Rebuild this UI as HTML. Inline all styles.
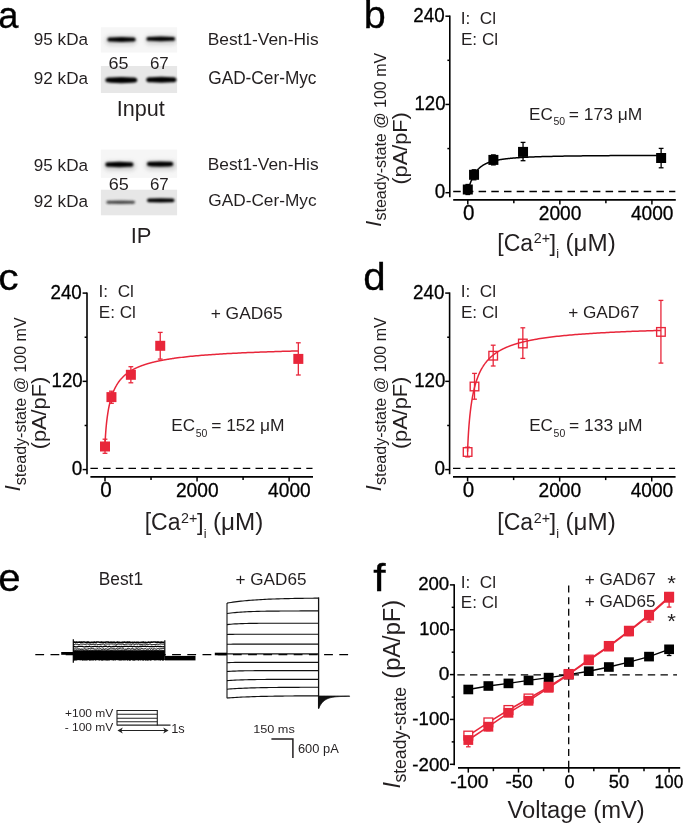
<!DOCTYPE html>
<html><head><meta charset="utf-8"><title>Figure</title>
<style>html,body{margin:0;padding:0;background:#fff;overflow:hidden;} svg{display:block;} text{font-family:"Liberation Sans",Arial,Helvetica,sans-serif;} text.k{stroke:#000;stroke-width:0.3px;}</style>
</head><body>
<svg width="685" height="824" viewBox="0 0 685 824">
<defs><filter id="bl" x="-20%" y="-100%" width="140%" height="300%"><feGaussianBlur stdDeviation="0.8"/></filter>
<filter id="bl2" x="-30%" y="-200%" width="160%" height="500%"><feGaussianBlur stdDeviation="2.2"/></filter>
<clipPath id="cpa"><rect x="100.9" y="27.3" width="76.2" height="25.2"/></clipPath>
<clipPath id="cpb"><rect x="100.9" y="149.6" width="76.2" height="28.2"/></clipPath></defs>
<rect x="0" y="0" width="685" height="824" fill="#fff"/>
<text transform="translate(-1.63,28.20) scale(0.9697,1)" font-size="37.41" fill="#000" class="k" >a</text>
<text transform="translate(363.83,28.30) scale(1.0353,1)" font-size="38.21" fill="#000" class="k" >b</text>
<text transform="translate(-1.83,290.30) scale(1.0773,1)" font-size="37.78" fill="#000" class="k" >c</text>
<text transform="translate(363.29,290.40) scale(1.0490,1)" font-size="38.34" fill="#000" class="k" >d</text>
<text transform="translate(-1.81,591.40) scale(1.0390,1)" font-size="38.70" fill="#000" class="k" >e</text>
<text transform="translate(373.34,590.90) scale(1.1432,1)" font-size="38.62" fill="#000" class="k" >f</text>
<rect x="100.90" y="27.30" width="76.20" height="25.20" fill="#f6f6f6" />
<g clip-path="url(#cpa)"><rect x="105.50" y="36.00" width="31.00" height="9.00" rx="4.50" fill="#888" opacity="0.35" filter="url(#bl2)"/></g>
<g clip-path="url(#cpa)"><rect x="145.50" y="35.50" width="31.00" height="9.00" rx="4.50" fill="#888" opacity="0.35" filter="url(#bl2)"/></g>
<path d="M107.30,39.50 C107.30,37.25 110.05,37.38 111.42,37.38 L121.50,37.00 L131.57,37.38 C132.95,37.38 135.70,37.25 135.70,39.50 C135.70,41.75 132.95,41.62 131.57,41.62 L121.50,42.00 L111.42,41.62 C110.05,41.62 107.30,41.75 107.30,39.50 Z" fill="#000" opacity="1.0" filter="url(#bl)"/>
<path d="M146.40,38.90 C146.40,36.83 148.93,36.95 150.19,36.95 L160.75,36.60 L171.31,36.95 C172.57,36.95 175.10,36.83 175.10,38.90 C175.10,40.97 172.57,40.85 171.31,40.85 L160.75,41.20 L150.19,40.85 C148.93,40.85 146.40,40.97 146.40,38.90 Z" fill="#000" opacity="1.0" filter="url(#bl)"/>
<rect x="100.90" y="66.00" width="76.20" height="27.00" fill="#e7e7e7" />
<path d="M105.40,80.10 C105.40,77.31 108.81,77.46 110.52,77.46 L121.35,77.00 L132.19,77.46 C133.89,77.46 137.30,77.31 137.30,80.10 C137.30,82.89 133.89,82.73 132.19,82.73 L121.35,83.20 L110.52,82.73 C108.81,82.73 105.40,82.89 105.40,80.10 Z" fill="#000" opacity="1.0" filter="url(#bl)"/>
<path d="M146.20,79.80 C146.20,77.10 149.50,77.25 151.15,77.25 L161.35,76.80 L171.55,77.25 C173.20,77.25 176.50,77.10 176.50,79.80 C176.50,82.50 173.20,82.35 171.55,82.35 L161.35,82.80 L151.15,82.35 C149.50,82.35 146.20,82.50 146.20,79.80 Z" fill="#000" opacity="1.0" filter="url(#bl)"/>
<rect x="100.90" y="149.60" width="76.20" height="28.20" fill="#f6f6f6" />
<g clip-path="url(#cpb)"><rect x="104.50" y="161.50" width="31.00" height="9.00" rx="4.50" fill="#888" opacity="0.35" filter="url(#bl2)"/></g>
<g clip-path="url(#cpb)"><rect x="145.50" y="161.00" width="31.00" height="9.00" rx="4.50" fill="#888" opacity="0.35" filter="url(#bl2)"/></g>
<path d="M105.40,164.50 C105.40,162.07 108.37,162.21 109.86,162.21 L119.40,161.80 L128.94,162.21 C130.43,162.21 133.40,162.07 133.40,164.50 C133.40,166.93 130.43,166.79 128.94,166.79 L119.40,167.20 L109.86,166.79 C108.37,166.79 105.40,166.93 105.40,164.50 Z" fill="#000" opacity="1.0" filter="url(#bl)"/>
<path d="M147.00,164.10 C147.00,161.67 149.97,161.81 151.46,161.81 L160.10,161.40 L168.74,161.81 C170.23,161.81 173.20,161.67 173.20,164.10 C173.20,166.53 170.23,166.39 168.74,166.39 L160.10,166.80 L151.46,166.39 C149.97,166.39 147.00,166.53 147.00,164.10 Z" fill="#000" opacity="1.0" filter="url(#bl)"/>
<rect x="100.90" y="189.70" width="76.20" height="25.60" fill="#e7e7e7" />
<path d="M106.30,202.20 C106.30,200.58 108.28,200.67 109.27,200.67 L120.70,200.40 L132.13,200.67 C133.12,200.67 135.10,200.58 135.10,202.20 C135.10,203.82 133.12,203.73 132.13,203.73 L120.70,204.00 L109.27,203.73 C108.28,203.73 106.30,203.82 106.30,202.20 Z" fill="#2a2a2a" opacity="0.85" filter="url(#bl)"/>
<path d="M147.00,200.40 C147.00,198.42 149.42,198.53 150.63,198.53 L160.75,198.20 L170.87,198.53 C172.08,198.53 174.50,198.42 174.50,200.40 C174.50,202.38 172.08,202.27 170.87,202.27 L160.75,202.60 L150.63,202.27 C149.42,202.27 147.00,202.38 147.00,200.40 Z" fill="#000" opacity="1.0" filter="url(#bl)"/>
<text transform="translate(33.83,45.30) scale(0.9927,1)" font-size="17.24" fill="#231f20" >95 kDa</text>
<text transform="translate(33.83,84.00) scale(0.9927,1)" font-size="17.24" fill="#231f20" >92 kDa</text>
<text transform="translate(33.83,170.90) scale(0.9927,1)" font-size="17.24" fill="#231f20" >95 kDa</text>
<text transform="translate(33.83,206.80) scale(0.9927,1)" font-size="17.24" fill="#231f20" >92 kDa</text>
<text transform="translate(207.71,45.10) scale(1.0398,1)" font-size="16.69" fill="#231f20" >Best1-Ven-His</text>
<text transform="translate(208.24,83.60) scale(0.9903,1)" font-size="17.43" fill="#231f20" >GAD-Cer-Myc</text>
<text transform="translate(207.71,170.00) scale(1.0663,1)" font-size="16.28" fill="#231f20" >Best1-Ven-His</text>
<text transform="translate(208.24,206.20) scale(1.0153,1)" font-size="17.00" fill="#231f20" >GAD-Cer-Myc</text>
<text transform="translate(108.60,68.90) scale(1.0379,1)" font-size="17.29" fill="#231f20" >65</text>
<text transform="translate(149.95,68.90) scale(0.9795,1)" font-size="17.29" fill="#231f20" >67</text>
<text transform="translate(108.70,190.00) scale(1.0436,1)" font-size="17.29" fill="#231f20" >65</text>
<text transform="translate(149.95,190.00) scale(0.9795,1)" font-size="17.29" fill="#231f20" >67</text>
<text transform="translate(116.66,115.70) scale(0.9870,1)" font-size="21.88" fill="#231f20" >Input</text>
<text transform="translate(130.72,242.90) scale(0.9788,1)" font-size="22.46" fill="#231f20" >IP</text>
<line x1="449.80" y1="15.50" x2="449.80" y2="197.30" stroke="#000" stroke-width="1.6" />
<line x1="445.40" y1="192.70" x2="449.80" y2="192.70" stroke="#000" stroke-width="1.5" />
<line x1="447.40" y1="148.57" x2="449.80" y2="148.57" stroke="#000" stroke-width="1.5" />
<line x1="445.40" y1="104.45" x2="449.80" y2="104.45" stroke="#000" stroke-width="1.5" />
<line x1="447.40" y1="60.32" x2="449.80" y2="60.32" stroke="#000" stroke-width="1.5" />
<line x1="445.40" y1="16.20" x2="449.80" y2="16.20" stroke="#000" stroke-width="1.5" />
<text transform="translate(413.26,21.90) scale(0.9200,1)" font-size="20.43" fill="#000" class="k" >240</text>
<text transform="translate(414.40,109.90) scale(0.8819,1)" font-size="21.14" fill="#000" class="k" >120</text>
<text transform="translate(434.64,198.20) scale(0.9340,1)" font-size="20.29" fill="#000" class="k" >0</text>
<line x1="453.20" y1="199.90" x2="675.80" y2="199.90" stroke="#000" stroke-width="1.8" />
<line x1="467.80" y1="199.90" x2="467.80" y2="204.60" stroke="#000" stroke-width="1.5" />
<line x1="513.83" y1="199.90" x2="513.83" y2="203.20" stroke="#000" stroke-width="1.5" />
<line x1="559.86" y1="199.90" x2="559.86" y2="204.60" stroke="#000" stroke-width="1.5" />
<line x1="605.89" y1="199.90" x2="605.89" y2="203.20" stroke="#000" stroke-width="1.5" />
<line x1="651.92" y1="199.90" x2="651.92" y2="204.60" stroke="#000" stroke-width="1.5" />
<text transform="translate(463.07,219.90) scale(0.9628,1)" font-size="21.43" fill="#000" class="k" >0</text>
<text transform="translate(538.74,219.90) scale(0.9185,1)" font-size="20.86" fill="#000" class="k" >2000</text>
<text transform="translate(630.92,219.90) scale(0.9167,1)" font-size="20.86" fill="#000" class="k" >4000</text>
<line x1="453.20" y1="191.50" x2="675.30" y2="191.50" stroke="#000" stroke-width="1.3" stroke-dasharray="7.5 5.20"/>
<polyline points="467.80,189.39 467.98,189.13 468.17,188.77 468.35,188.35 468.54,187.89 468.72,187.42 468.90,186.93 469.09,186.43 469.27,185.92 469.46,185.42 469.64,184.91 469.83,184.40 470.01,183.90 470.19,183.40 470.38,182.91 470.56,182.42 470.75,181.95 470.93,181.48 471.11,181.01 471.30,180.56 471.48,180.11 471.67,179.68 471.85,179.25 472.03,178.83 472.22,178.42 472.40,178.02 472.59,177.63 472.77,177.24 472.96,176.87 473.14,176.50 473.32,176.14 473.51,175.79 473.69,175.45 473.88,175.12 474.06,174.79 474.24,174.47 474.43,174.16 474.61,173.86 474.80,173.56 474.98,173.27 475.16,172.99 475.35,172.71 475.53,172.44 475.72,172.17 475.90,171.92 476.09,171.66 476.27,171.42 476.45,171.18 476.64,170.94 476.82,170.71 477.01,170.48 477.19,170.26 477.37,170.05 477.56,169.84 477.74,169.63 477.93,169.43 478.11,169.23 478.29,169.04 478.48,168.85 478.66,168.67 478.85,168.49 479.03,168.31 479.22,168.14 479.40,167.97 479.58,167.80 479.77,167.64 479.95,167.48 480.14,167.32 480.32,167.17 480.50,167.02 480.69,166.87 480.87,166.73 481.06,166.58 481.24,166.44 481.42,166.31 481.61,166.18 481.79,166.04 481.98,165.92 482.16,165.79 482.35,165.67 482.53,165.55 482.71,165.43 482.90,165.31 483.08,165.19 483.27,165.08 483.45,164.97 483.63,164.86 483.82,164.76 484.00,164.65 484.19,164.55 484.37,164.45 484.55,164.35 484.74,164.25 484.92,164.15 485.11,164.06 485.29,163.97 485.48,163.88 485.66,163.79 485.84,163.70 486.03,163.61 486.21,163.53 486.40,163.44 486.58,163.36 486.76,163.28 486.95,163.20 487.13,163.12 487.32,163.04 487.50,162.97 487.68,162.89 487.87,162.82 488.05,162.74 488.24,162.67 488.42,162.60 488.61,162.53 488.79,162.46 488.97,162.40 489.16,162.33 489.34,162.27 489.53,162.20 489.71,162.14 489.89,162.07 490.08,162.01 490.26,161.95 490.45,161.89 490.63,161.83 490.81,161.78 491.00,161.72 491.18,161.66 491.37,161.61 491.55,161.55 491.74,161.50 491.92,161.44 492.10,161.39 492.29,161.34 492.47,161.29 492.66,161.24 492.84,161.19 493.02,161.14 493.21,161.09 493.39,161.04 493.58,160.99 493.76,160.95 493.95,160.90 494.13,160.85 494.31,160.81 494.50,160.77 494.68,160.72 494.87,160.68 495.05,160.64 495.23,160.59 495.42,160.55 495.60,160.51 495.79,160.47 495.97,160.43 496.15,160.39 496.34,160.35 496.52,160.31 496.71,160.27 496.89,160.24 497.08,160.20 497.26,160.16 497.44,160.13 497.63,160.09 497.81,160.05 498.00,160.02 498.18,159.98 498.36,159.95 498.55,159.92 498.73,159.88 498.92,159.85 499.10,159.82 499.28,159.78 499.47,159.75 499.65,159.72 499.84,159.69 500.02,159.66 500.21,159.63 500.39,159.60 500.57,159.57 500.76,159.54 500.94,159.51 501.13,159.48 501.31,159.45 501.49,159.42 501.68,159.39 501.86,159.36 502.05,159.34 502.23,159.31 502.41,159.28 502.60,159.26 502.78,159.23 502.97,159.20 503.15,159.18 503.34,159.15 503.52,159.13 503.70,159.10 503.89,159.08 504.07,159.05 504.26,159.03 504.44,159.00 504.62,158.98 504.81,158.96 504.99,158.93 505.18,158.91 505.36,158.89 505.54,158.86 505.73,158.84 505.91,158.82 506.10,158.80 506.28,158.78 506.47,158.75 506.65,158.73 506.83,158.71 507.02,158.69 507.20,158.67 507.39,158.65 507.57,158.63 507.75,158.61 507.94,158.59 508.12,158.57 508.31,158.55 508.49,158.53 508.67,158.51 508.86,158.49 509.04,158.47 509.23,158.45 509.41,158.43 509.60,158.41 509.78,158.40 509.96,158.38 510.15,158.36 510.33,158.34 510.52,158.32 510.70,158.31 510.88,158.29 511.07,158.27 511.25,158.26 511.44,158.24 511.62,158.22 511.80,158.21 511.99,158.19 512.17,158.17 512.36,158.16 512.54,158.14 512.73,158.12 512.91,158.11 513.09,158.09 513.28,158.08 513.46,158.06 513.65,158.05 513.83,158.03 514.01,158.02 514.20,158.00 514.38,157.99 514.57,157.97 514.75,157.96 514.93,157.94 515.12,157.93 515.30,157.91 515.49,157.90 515.67,157.89 515.86,157.87 516.04,157.86 516.22,157.84 516.41,157.83 516.59,157.82 516.78,157.80 516.96,157.79 517.14,157.78 517.33,157.76 517.51,157.75 517.70,157.74 517.88,157.73 518.06,157.71 518.25,157.70 518.43,157.69 518.62,157.68 518.80,157.66 518.99,157.65 519.17,157.64 519.35,157.63 519.54,157.62 519.72,157.60 519.91,157.59 520.09,157.58 520.27,157.57 520.46,157.56 520.64,157.55 520.83,157.53 521.01,157.52 521.19,157.51 521.38,157.50 521.56,157.49 521.75,157.48 521.93,157.47 522.12,157.46 522.30,157.45 522.48,157.44 522.67,157.43 522.85,157.42 523.04,157.41 523.22,157.39 523.40,157.38 523.59,157.37 523.77,157.36 523.96,157.35 524.14,157.34 524.32,157.33 524.51,157.32 524.69,157.31 524.88,157.31 525.06,157.30 525.25,157.29 525.43,157.28 525.61,157.27 525.80,157.26 525.98,157.25 526.17,157.24 526.35,157.23 526.53,157.22 526.72,157.21 526.90,157.20 527.09,157.19 527.27,157.19 527.45,157.18 527.64,157.17 527.82,157.16 528.01,157.15 528.19,157.14 528.38,157.13 528.56,157.12 528.74,157.12 528.93,157.11 529.11,157.10 529.30,157.09 529.48,157.08 529.66,157.07 529.85,157.07 530.03,157.06 530.22,157.05 530.40,157.04 530.58,157.03 530.77,157.03 530.95,157.02 531.14,157.01 531.32,157.00 531.51,157.00 531.69,156.99 531.87,156.98 532.06,156.97 532.24,156.97 532.43,156.96 532.61,156.95 532.79,156.94 532.98,156.94 533.16,156.93 533.35,156.92 533.53,156.91 533.71,156.91 533.90,156.90 534.08,156.89 534.27,156.89 534.45,156.88 534.64,156.87 534.82,156.87 535.00,156.86 535.19,156.85 535.37,156.85 535.56,156.84 535.74,156.83 535.92,156.83 536.11,156.82 536.29,156.81 536.48,156.81 536.66,156.80 536.85,156.79 538.69,156.73 540.53,156.67 542.37,156.62 544.21,156.56 546.05,156.51 547.89,156.46 549.73,156.42 551.57,156.38 553.42,156.33 555.26,156.29 557.10,156.26 558.94,156.22 560.78,156.19 562.62,156.15 564.46,156.12 566.30,156.09 568.15,156.06 569.99,156.03 571.83,156.01 573.67,155.98 575.51,155.96 577.35,155.93 579.19,155.91 581.03,155.89 582.88,155.87 584.72,155.85 586.56,155.83 588.40,155.81 590.24,155.79 592.08,155.77 593.92,155.75 595.76,155.74 597.60,155.72 599.45,155.70 601.29,155.69 603.13,155.67 604.97,155.66 606.81,155.65 608.65,155.63 610.49,155.62 612.33,155.61 614.18,155.59 616.02,155.58 617.86,155.57 619.70,155.56 621.54,155.55 623.38,155.54 625.22,155.53 627.06,155.52 628.90,155.51 630.75,155.50 632.59,155.49 634.43,155.48 636.27,155.47 638.11,155.46 639.95,155.45 641.79,155.44 643.63,155.43 645.48,155.43 647.32,155.42 649.16,155.41 651.00,155.40 652.84,155.40 654.68,155.39 656.52,155.38 658.36,155.37 660.21,155.37 661.13,155.36" fill="none" stroke="#000" stroke-width="1.5" stroke-linejoin="round" />
<line x1="467.80" y1="184.50" x2="467.80" y2="194.50" stroke="#000" stroke-width="1.3" />
<line x1="465.40" y1="184.50" x2="470.20" y2="184.50" stroke="#000" stroke-width="1.3" />
<line x1="465.40" y1="194.50" x2="470.20" y2="194.50" stroke="#000" stroke-width="1.3" />
<rect x="462.80" y="184.50" width="10.00" height="10.00" fill="#000" />
<line x1="474.06" y1="169.80" x2="474.06" y2="179.80" stroke="#000" stroke-width="1.3" />
<line x1="471.66" y1="169.80" x2="476.46" y2="169.80" stroke="#000" stroke-width="1.3" />
<line x1="471.66" y1="179.80" x2="476.46" y2="179.80" stroke="#000" stroke-width="1.3" />
<rect x="469.06" y="169.80" width="10.00" height="10.00" fill="#000" />
<line x1="493.39" y1="154.90" x2="493.39" y2="164.90" stroke="#000" stroke-width="1.3" />
<line x1="490.99" y1="154.90" x2="495.79" y2="154.90" stroke="#000" stroke-width="1.3" />
<line x1="490.99" y1="164.90" x2="495.79" y2="164.90" stroke="#000" stroke-width="1.3" />
<rect x="488.39" y="154.90" width="10.00" height="10.00" fill="#000" />
<line x1="523.04" y1="142.40" x2="523.04" y2="160.70" stroke="#000" stroke-width="1.3" />
<line x1="520.64" y1="142.40" x2="525.44" y2="142.40" stroke="#000" stroke-width="1.3" />
<line x1="520.64" y1="160.70" x2="525.44" y2="160.70" stroke="#000" stroke-width="1.3" />
<rect x="518.04" y="146.90" width="10.00" height="10.00" fill="#000" />
<line x1="661.13" y1="148.40" x2="661.13" y2="167.80" stroke="#000" stroke-width="1.3" />
<line x1="658.73" y1="148.40" x2="663.53" y2="148.40" stroke="#000" stroke-width="1.3" />
<line x1="658.73" y1="167.80" x2="663.53" y2="167.80" stroke="#000" stroke-width="1.3" />
<rect x="656.13" y="153.00" width="10.00" height="10.00" fill="#000" />
<text transform="translate(460.75,23.80) scale(1.0485,1)" font-size="16.41" fill="#231f20" >I:&#160; Cl</text>
<text transform="translate(460.93,45.00) scale(1.0466,1)" font-size="16.41" fill="#231f20" >E: Cl</text>
<text transform="translate(529.03,119.70) scale(1.0129,1)" font-size="16.86" fill="#231f20" >EC</text>
<text transform="translate(553.38,125.40) scale(1.0338,1)" font-size="10.14" fill="#231f20" >50</text>
<text transform="translate(568.83,119.70) scale(1.0340,1)" font-size="16.86" fill="#231f20" >= 173 μM</text>
<text transform="translate(497.29,250.60) scale(0.9651,1)" font-size="23.86" fill="#231f20" >[Ca</text>
<text transform="translate(533.68,243.20) scale(1.0130,1)" font-size="14.14" fill="#231f20" >2+</text>
<text transform="translate(549.56,250.60) scale(1.0000,1)" font-size="23.86" fill="#231f20" >]</text>
<text transform="translate(556.28,258.20) scale(1.0000,1)" font-size="12.69" fill="#231f20" >i</text>
<text transform="translate(565.54,250.60) scale(1.0284,1)" font-size="23.59" fill="#231f20" >(μM)</text>
<text transform="translate(380.60,227.00) rotate(-90) scale(1.0000,1)" font-size="22.61" fill="#231f20" font-style="italic">I</text>
<text transform="translate(386.40,220.58) rotate(-90) scale(0.9778,1)" font-size="16.41" fill="#231f20">steady-state @ 100 mV</text>
<text transform="translate(406.70,184.60) rotate(-90) scale(1.0289,1)" font-size="21.10" fill="#231f20">(pA/pF)</text>
<line x1="87.00" y1="292.40" x2="87.00" y2="474.20" stroke="#000" stroke-width="1.6" />
<line x1="82.60" y1="469.60" x2="87.00" y2="469.60" stroke="#000" stroke-width="1.5" />
<line x1="84.60" y1="425.48" x2="87.00" y2="425.48" stroke="#000" stroke-width="1.5" />
<line x1="82.60" y1="381.35" x2="87.00" y2="381.35" stroke="#000" stroke-width="1.5" />
<line x1="84.60" y1="337.23" x2="87.00" y2="337.23" stroke="#000" stroke-width="1.5" />
<line x1="82.60" y1="293.10" x2="87.00" y2="293.10" stroke="#000" stroke-width="1.5" />
<text transform="translate(50.46,298.80) scale(0.9200,1)" font-size="20.43" fill="#000" class="k" >240</text>
<text transform="translate(51.60,386.80) scale(0.8819,1)" font-size="21.14" fill="#000" class="k" >120</text>
<text transform="translate(71.84,475.10) scale(0.9340,1)" font-size="20.29" fill="#000" class="k" >0</text>
<line x1="90.40" y1="476.80" x2="313.00" y2="476.80" stroke="#000" stroke-width="1.8" />
<line x1="105.00" y1="476.80" x2="105.00" y2="481.50" stroke="#000" stroke-width="1.5" />
<line x1="151.03" y1="476.80" x2="151.03" y2="480.10" stroke="#000" stroke-width="1.5" />
<line x1="197.06" y1="476.80" x2="197.06" y2="481.50" stroke="#000" stroke-width="1.5" />
<line x1="243.09" y1="476.80" x2="243.09" y2="480.10" stroke="#000" stroke-width="1.5" />
<line x1="289.12" y1="476.80" x2="289.12" y2="481.50" stroke="#000" stroke-width="1.5" />
<text transform="translate(100.27,496.80) scale(0.9628,1)" font-size="21.43" fill="#000" class="k" >0</text>
<text transform="translate(175.94,496.80) scale(0.9185,1)" font-size="20.86" fill="#000" class="k" >2000</text>
<text transform="translate(268.12,496.80) scale(0.9167,1)" font-size="20.86" fill="#000" class="k" >4000</text>
<line x1="90.40" y1="468.40" x2="312.50" y2="468.40" stroke="#000" stroke-width="1.3" stroke-dasharray="7.5 5.20"/>
<polyline points="105.00,446.51 105.18,441.22 105.37,437.65 105.55,434.64 105.74,432.01 105.92,429.64 106.10,427.49 106.29,425.50 106.47,423.66 106.66,421.95 106.84,420.34 107.03,418.83 107.21,417.40 107.39,416.05 107.58,414.77 107.76,413.55 107.95,412.38 108.13,411.27 108.31,410.21 108.50,409.19 108.68,408.21 108.87,407.27 109.05,406.37 109.23,405.50 109.42,404.66 109.60,403.85 109.79,403.06 109.97,402.31 110.16,401.58 110.34,400.87 110.52,400.18 110.71,399.52 110.89,398.87 111.08,398.24 111.26,397.63 111.44,397.04 111.63,396.47 111.81,395.91 112.00,395.36 112.18,394.83 112.36,394.31 112.55,393.81 112.73,393.31 112.92,392.83 113.10,392.36 113.29,391.91 113.47,391.46 113.65,391.02 113.84,390.59 114.02,390.18 114.21,389.77 114.39,389.37 114.57,388.98 114.76,388.59 114.94,388.22 115.13,387.85 115.31,387.49 115.49,387.14 115.68,386.79 115.86,386.45 116.05,386.12 116.23,385.79 116.42,385.47 116.60,385.16 116.78,384.85 116.97,384.54 117.15,384.24 117.34,383.95 117.52,383.66 117.70,383.38 117.89,383.10 118.07,382.83 118.26,382.56 118.44,382.30 118.62,382.04 118.81,381.78 118.99,381.53 119.18,381.28 119.36,381.04 119.55,380.80 119.73,380.56 119.91,380.33 120.10,380.10 120.28,379.88 120.47,379.65 120.65,379.44 120.83,379.22 121.02,379.01 121.20,378.80 121.39,378.59 121.57,378.39 121.75,378.19 121.94,377.99 122.12,377.79 122.31,377.60 122.49,377.41 122.68,377.22 122.86,377.04 123.04,376.85 123.23,376.67 123.41,376.50 123.60,376.32 123.78,376.15 123.96,375.98 124.15,375.81 124.33,375.64 124.52,375.48 124.70,375.31 124.88,375.15 125.07,374.99 125.25,374.84 125.44,374.68 125.62,374.53 125.81,374.38 125.99,374.23 126.17,374.08 126.36,373.93 126.54,373.79 126.73,373.64 126.91,373.50 127.09,373.36 127.28,373.23 127.46,373.09 127.65,372.95 127.83,372.82 128.01,372.69 128.20,372.56 128.38,372.43 128.57,372.30 128.75,372.17 128.94,372.05 129.12,371.92 129.30,371.80 129.49,371.68 129.67,371.56 129.86,371.44 130.04,371.32 130.22,371.21 130.41,371.09 130.59,370.98 130.78,370.86 130.96,370.75 131.15,370.64 131.33,370.53 131.51,370.42 131.70,370.31 131.88,370.21 132.07,370.10 132.25,370.00 132.43,369.89 132.62,369.79 132.80,369.69 132.99,369.59 133.17,369.49 133.35,369.39 133.54,369.29 133.72,369.19 133.91,369.10 134.09,369.00 134.28,368.91 134.46,368.81 134.64,368.72 134.83,368.63 135.01,368.53 135.20,368.44 135.38,368.35 135.56,368.27 135.75,368.18 135.93,368.09 136.12,368.00 136.30,367.92 136.48,367.83 136.67,367.75 136.85,367.66 137.04,367.58 137.22,367.50 137.41,367.42 137.59,367.33 137.77,367.25 137.96,367.17 138.14,367.09 138.33,367.02 138.51,366.94 138.69,366.86 138.88,366.78 139.06,366.71 139.25,366.63 139.43,366.56 139.61,366.48 139.80,366.41 139.98,366.33 140.17,366.26 140.35,366.19 140.54,366.12 140.72,366.05 140.90,365.98 141.09,365.91 141.27,365.84 141.46,365.77 141.64,365.70 141.82,365.63 142.01,365.56 142.19,365.50 142.38,365.43 142.56,365.36 142.74,365.30 142.93,365.23 143.11,365.17 143.30,365.11 143.48,365.04 143.67,364.98 143.85,364.92 144.03,364.85 144.22,364.79 144.40,364.73 144.59,364.67 144.77,364.61 144.95,364.55 145.14,364.49 145.32,364.43 145.51,364.37 145.69,364.31 145.87,364.25 146.06,364.19 146.24,364.14 146.43,364.08 146.61,364.02 146.80,363.97 146.98,363.91 147.16,363.85 147.35,363.80 147.53,363.74 147.72,363.69 147.90,363.64 148.08,363.58 148.27,363.53 148.45,363.48 148.64,363.42 148.82,363.37 149.00,363.32 149.19,363.27 149.37,363.21 149.56,363.16 149.74,363.11 149.93,363.06 150.11,363.01 150.29,362.96 150.48,362.91 150.66,362.86 150.85,362.81 151.03,362.76 151.21,362.72 151.40,362.67 151.58,362.62 151.77,362.57 151.95,362.53 152.13,362.48 152.32,362.43 152.50,362.39 152.69,362.34 152.87,362.29 153.06,362.25 153.24,362.20 153.42,362.16 153.61,362.11 153.79,362.07 153.98,362.02 154.16,361.98 154.34,361.93 154.53,361.89 154.71,361.85 154.90,361.80 155.08,361.76 155.26,361.72 155.45,361.68 155.63,361.63 155.82,361.59 156.00,361.55 156.19,361.51 156.37,361.47 156.55,361.43 156.74,361.39 156.92,361.35 157.11,361.31 157.29,361.27 157.47,361.23 157.66,361.19 157.84,361.15 158.03,361.11 158.21,361.07 158.39,361.03 158.58,360.99 158.76,360.95 158.95,360.91 159.13,360.88 159.32,360.84 159.50,360.80 159.68,360.76 159.87,360.73 160.05,360.69 160.24,360.65 160.42,360.61 160.60,360.58 160.79,360.54 160.97,360.51 161.16,360.47 161.34,360.43 161.52,360.40 161.71,360.36 161.89,360.33 162.08,360.29 162.26,360.26 162.45,360.22 162.63,360.19 162.81,360.15 163.00,360.12 163.18,360.09 163.37,360.05 163.55,360.02 163.73,359.98 163.92,359.95 164.10,359.92 164.29,359.89 164.47,359.85 164.65,359.82 164.84,359.79 165.02,359.75 165.21,359.72 165.39,359.69 165.58,359.66 165.76,359.63 165.94,359.59 166.13,359.56 166.31,359.53 166.50,359.50 166.68,359.47 166.86,359.44 167.05,359.41 167.23,359.38 167.42,359.35 167.60,359.32 167.78,359.29 167.97,359.26 168.15,359.23 168.34,359.20 168.52,359.17 168.71,359.14 168.89,359.11 169.07,359.08 169.26,359.05 169.44,359.02 169.63,358.99 169.81,358.96 169.99,358.93 170.18,358.91 170.36,358.88 170.55,358.85 170.73,358.82 170.91,358.79 171.10,358.76 171.28,358.74 171.47,358.71 171.65,358.68 171.84,358.65 172.02,358.63 172.20,358.60 172.39,358.57 172.57,358.55 172.76,358.52 172.94,358.49 173.12,358.47 173.31,358.44 173.49,358.41 173.68,358.39 173.86,358.36 174.05,358.33 175.89,358.08 177.73,357.84 179.57,357.60 181.41,357.38 183.25,357.16 185.09,356.95 186.93,356.75 188.77,356.55 190.62,356.37 192.46,356.19 194.30,356.01 196.14,355.84 197.98,355.68 199.82,355.52 201.66,355.37 203.50,355.22 205.35,355.07 207.19,354.93 209.03,354.79 210.87,354.66 212.71,354.53 214.55,354.41 216.39,354.29 218.23,354.17 220.07,354.05 221.92,353.94 223.76,353.83 225.60,353.72 227.44,353.62 229.28,353.52 231.12,353.42 232.96,353.32 234.80,353.23 236.65,353.14 238.49,353.05 240.33,352.96 242.17,352.87 244.01,352.79 245.85,352.71 247.69,352.62 249.53,352.55 251.38,352.47 253.22,352.39 255.06,352.32 256.90,352.25 258.74,352.18 260.58,352.11 262.42,352.04 264.26,351.97 266.11,351.90 267.95,351.84 269.79,351.78 271.63,351.72 273.47,351.65 275.31,351.59 277.15,351.54 278.99,351.48 280.83,351.42 282.68,351.37 284.52,351.31 286.36,351.26 288.20,351.20 290.04,351.15 291.88,351.10 293.72,351.05 295.56,351.00 297.41,350.95 298.33,350.93" fill="none" stroke="#e8263a" stroke-width="1.5" stroke-linejoin="round" />
<line x1="105.00" y1="439.20" x2="105.00" y2="453.30" stroke="#e8263a" stroke-width="1.3" />
<line x1="102.60" y1="439.20" x2="107.40" y2="439.20" stroke="#e8263a" stroke-width="1.3" />
<line x1="102.60" y1="453.30" x2="107.40" y2="453.30" stroke="#e8263a" stroke-width="1.3" />
<rect x="100.00" y="441.50" width="10.00" height="10.00" fill="#e8263a" />
<line x1="111.44" y1="391.20" x2="111.44" y2="403.30" stroke="#e8263a" stroke-width="1.3" />
<line x1="109.04" y1="391.20" x2="113.84" y2="391.20" stroke="#e8263a" stroke-width="1.3" />
<line x1="109.04" y1="403.30" x2="113.84" y2="403.30" stroke="#e8263a" stroke-width="1.3" />
<rect x="106.44" y="392.10" width="10.00" height="10.00" fill="#e8263a" />
<line x1="130.87" y1="366.70" x2="130.87" y2="382.80" stroke="#e8263a" stroke-width="1.3" />
<line x1="128.47" y1="366.70" x2="133.27" y2="366.70" stroke="#e8263a" stroke-width="1.3" />
<line x1="128.47" y1="382.80" x2="133.27" y2="382.80" stroke="#e8263a" stroke-width="1.3" />
<rect x="125.87" y="369.80" width="10.00" height="10.00" fill="#e8263a" />
<line x1="160.24" y1="332.40" x2="160.24" y2="359.10" stroke="#e8263a" stroke-width="1.3" />
<line x1="157.84" y1="332.40" x2="162.64" y2="332.40" stroke="#e8263a" stroke-width="1.3" />
<line x1="157.84" y1="359.10" x2="162.64" y2="359.10" stroke="#e8263a" stroke-width="1.3" />
<rect x="155.24" y="340.80" width="10.00" height="10.00" fill="#e8263a" />
<line x1="298.33" y1="342.80" x2="298.33" y2="375.00" stroke="#e8263a" stroke-width="1.3" />
<line x1="295.93" y1="342.80" x2="300.73" y2="342.80" stroke="#e8263a" stroke-width="1.3" />
<line x1="295.93" y1="375.00" x2="300.73" y2="375.00" stroke="#e8263a" stroke-width="1.3" />
<rect x="293.33" y="353.90" width="10.00" height="10.00" fill="#e8263a" />
<text transform="translate(98.55,297.00) scale(1.0485,1)" font-size="16.41" fill="#231f20" >I:&#160; Cl</text>
<text transform="translate(98.73,318.20) scale(1.0466,1)" font-size="16.41" fill="#231f20" >E: Cl</text>
<text transform="translate(171.33,431.00) scale(1.0129,1)" font-size="16.86" fill="#231f20" >EC</text>
<text transform="translate(195.68,436.70) scale(1.0338,1)" font-size="10.14" fill="#231f20" >50</text>
<text transform="translate(211.13,431.00) scale(1.0340,1)" font-size="16.86" fill="#231f20" >= 152 μM</text>
<text transform="translate(210.63,318.50) scale(1.0240,1)" font-size="17.00" fill="#231f20" >+ GAD65</text>
<text transform="translate(144.69,530.30) scale(0.9651,1)" font-size="23.86" fill="#231f20" >[Ca</text>
<text transform="translate(181.08,522.90) scale(1.0130,1)" font-size="14.14" fill="#231f20" >2+</text>
<text transform="translate(196.96,530.30) scale(1.0000,1)" font-size="23.86" fill="#231f20" >]</text>
<text transform="translate(203.68,537.90) scale(1.0000,1)" font-size="12.69" fill="#231f20" >i</text>
<text transform="translate(212.94,530.30) scale(1.0284,1)" font-size="23.59" fill="#231f20" >(μM)</text>
<text transform="translate(19.70,491.60) rotate(-90) scale(1.0000,1)" font-size="22.61" fill="#231f20" font-style="italic">I</text>
<text transform="translate(25.50,485.18) rotate(-90) scale(0.9778,1)" font-size="16.41" fill="#231f20">steady-state @ 100 mV</text>
<text transform="translate(45.80,449.20) rotate(-90) scale(1.0289,1)" font-size="21.10" fill="#231f20">(pA/pF)</text>
<line x1="449.60" y1="292.40" x2="449.60" y2="474.20" stroke="#000" stroke-width="1.6" />
<line x1="445.20" y1="469.60" x2="449.60" y2="469.60" stroke="#000" stroke-width="1.5" />
<line x1="447.20" y1="425.48" x2="449.60" y2="425.48" stroke="#000" stroke-width="1.5" />
<line x1="445.20" y1="381.35" x2="449.60" y2="381.35" stroke="#000" stroke-width="1.5" />
<line x1="447.20" y1="337.23" x2="449.60" y2="337.23" stroke="#000" stroke-width="1.5" />
<line x1="445.20" y1="293.10" x2="449.60" y2="293.10" stroke="#000" stroke-width="1.5" />
<text transform="translate(413.06,298.80) scale(0.9200,1)" font-size="20.43" fill="#000" class="k" >240</text>
<text transform="translate(414.20,386.80) scale(0.8819,1)" font-size="21.14" fill="#000" class="k" >120</text>
<text transform="translate(434.44,475.10) scale(0.9340,1)" font-size="20.29" fill="#000" class="k" >0</text>
<line x1="453.00" y1="476.80" x2="675.60" y2="476.80" stroke="#000" stroke-width="1.8" />
<line x1="467.60" y1="476.80" x2="467.60" y2="481.50" stroke="#000" stroke-width="1.5" />
<line x1="513.63" y1="476.80" x2="513.63" y2="480.10" stroke="#000" stroke-width="1.5" />
<line x1="559.66" y1="476.80" x2="559.66" y2="481.50" stroke="#000" stroke-width="1.5" />
<line x1="605.69" y1="476.80" x2="605.69" y2="480.10" stroke="#000" stroke-width="1.5" />
<line x1="651.72" y1="476.80" x2="651.72" y2="481.50" stroke="#000" stroke-width="1.5" />
<text transform="translate(462.87,496.80) scale(0.9628,1)" font-size="21.43" fill="#000" class="k" >0</text>
<text transform="translate(538.54,496.80) scale(0.9185,1)" font-size="20.86" fill="#000" class="k" >2000</text>
<text transform="translate(630.72,496.80) scale(0.9167,1)" font-size="20.86" fill="#000" class="k" >4000</text>
<line x1="453.00" y1="468.40" x2="675.10" y2="468.40" stroke="#000" stroke-width="1.3" stroke-dasharray="7.5 5.20"/>
<polyline points="467.60,451.80 467.78,446.16 467.97,441.97 468.15,438.35 468.34,435.11 468.52,432.16 468.70,429.44 468.89,426.91 469.07,424.56 469.26,422.34 469.44,420.26 469.63,418.29 469.81,416.43 469.99,414.66 470.18,412.97 470.36,411.36 470.55,409.83 470.73,408.36 470.91,406.95 471.10,405.60 471.28,404.30 471.47,403.05 471.65,401.85 471.83,400.69 472.02,399.57 472.20,398.50 472.39,397.45 472.57,396.44 472.76,395.47 472.94,394.52 473.12,393.60 473.31,392.72 473.49,391.85 473.68,391.02 473.86,390.20 474.04,389.41 474.23,388.64 474.41,387.89 474.60,387.17 474.78,386.46 474.96,385.76 475.15,385.09 475.33,384.43 475.52,383.79 475.70,383.17 475.89,382.56 476.07,381.96 476.25,381.38 476.44,380.81 476.62,380.25 476.81,379.71 476.99,379.18 477.17,378.65 477.36,378.14 477.54,377.65 477.73,377.16 477.91,376.68 478.09,376.21 478.28,375.75 478.46,375.30 478.65,374.86 478.83,374.42 479.02,374.00 479.20,373.58 479.38,373.17 479.57,372.77 479.75,372.38 479.94,371.99 480.12,371.61 480.30,371.23 480.49,370.87 480.67,370.51 480.86,370.15 481.04,369.80 481.22,369.46 481.41,369.12 481.59,368.79 481.78,368.46 481.96,368.14 482.15,367.83 482.33,367.52 482.51,367.21 482.70,366.91 482.88,366.61 483.07,366.32 483.25,366.03 483.43,365.75 483.62,365.47 483.80,365.20 483.99,364.93 484.17,364.66 484.35,364.39 484.54,364.14 484.72,363.88 484.91,363.63 485.09,363.38 485.28,363.13 485.46,362.89 485.64,362.65 485.83,362.42 486.01,362.19 486.20,361.96 486.38,361.73 486.56,361.51 486.75,361.29 486.93,361.07 487.12,360.85 487.30,360.64 487.48,360.43 487.67,360.23 487.85,360.02 488.04,359.82 488.22,359.62 488.41,359.42 488.59,359.23 488.77,359.04 488.96,358.85 489.14,358.66 489.33,358.48 489.51,358.29 489.69,358.11 489.88,357.93 490.06,357.76 490.25,357.58 490.43,357.41 490.62,357.24 490.80,357.07 490.98,356.90 491.17,356.74 491.35,356.57 491.54,356.41 491.72,356.25 491.90,356.09 492.09,355.94 492.27,355.78 492.46,355.63 492.64,355.48 492.82,355.33 493.01,355.18 493.19,355.03 493.38,354.88 493.56,354.74 493.75,354.60 493.93,354.46 494.11,354.32 494.30,354.18 494.48,354.04 494.67,353.91 494.85,353.77 495.03,353.64 495.22,353.51 495.40,353.38 495.59,353.25 495.77,353.12 495.95,352.99 496.14,352.87 496.32,352.74 496.51,352.62 496.69,352.50 496.88,352.38 497.06,352.26 497.24,352.14 497.43,352.02 497.61,351.90 497.80,351.79 497.98,351.67 498.16,351.56 498.35,351.45 498.53,351.33 498.72,351.22 498.90,351.11 499.08,351.01 499.27,350.90 499.45,350.79 499.64,350.69 499.82,350.58 500.01,350.48 500.19,350.37 500.37,350.27 500.56,350.17 500.74,350.07 500.93,349.97 501.11,349.87 501.29,349.77 501.48,349.67 501.66,349.58 501.85,349.48 502.03,349.39 502.21,349.29 502.40,349.20 502.58,349.11 502.77,349.01 502.95,348.92 503.14,348.83 503.32,348.74 503.50,348.65 503.69,348.57 503.87,348.48 504.06,348.39 504.24,348.30 504.42,348.22 504.61,348.13 504.79,348.05 504.98,347.96 505.16,347.88 505.34,347.80 505.53,347.72 505.71,347.64 505.90,347.55 506.08,347.47 506.27,347.39 506.45,347.32 506.63,347.24 506.82,347.16 507.00,347.08 507.19,347.00 507.37,346.93 507.55,346.85 507.74,346.78 507.92,346.70 508.11,346.63 508.29,346.55 508.47,346.48 508.66,346.41 508.84,346.34 509.03,346.27 509.21,346.19 509.40,346.12 509.58,346.05 509.76,345.98 509.95,345.91 510.13,345.85 510.32,345.78 510.50,345.71 510.68,345.64 510.87,345.58 511.05,345.51 511.24,345.44 511.42,345.38 511.60,345.31 511.79,345.25 511.97,345.18 512.16,345.12 512.34,345.06 512.53,344.99 512.71,344.93 512.89,344.87 513.08,344.81 513.26,344.74 513.45,344.68 513.63,344.62 513.81,344.56 514.00,344.50 514.18,344.44 514.37,344.38 514.55,344.32 514.73,344.26 514.92,344.21 515.10,344.15 515.29,344.09 515.47,344.03 515.66,343.98 515.84,343.92 516.02,343.86 516.21,343.81 516.39,343.75 516.58,343.70 516.76,343.64 516.94,343.59 517.13,343.54 517.31,343.48 517.50,343.43 517.68,343.37 517.86,343.32 518.05,343.27 518.23,343.22 518.42,343.17 518.60,343.11 518.79,343.06 518.97,343.01 519.15,342.96 519.34,342.91 519.52,342.86 519.71,342.81 519.89,342.76 520.07,342.71 520.26,342.66 520.44,342.61 520.63,342.56 520.81,342.52 520.99,342.47 521.18,342.42 521.36,342.37 521.55,342.32 521.73,342.28 521.92,342.23 522.10,342.18 522.28,342.14 522.47,342.09 522.65,342.05 522.84,342.00 523.02,341.96 523.20,341.91 523.39,341.87 523.57,341.82 523.76,341.78 523.94,341.73 524.12,341.69 524.31,341.65 524.49,341.60 524.68,341.56 524.86,341.52 525.05,341.47 525.23,341.43 525.41,341.39 525.60,341.35 525.78,341.30 525.97,341.26 526.15,341.22 526.33,341.18 526.52,341.14 526.70,341.10 526.89,341.06 527.07,341.02 527.25,340.98 527.44,340.94 527.62,340.90 527.81,340.86 527.99,340.82 528.18,340.78 528.36,340.74 528.54,340.70 528.73,340.66 528.91,340.62 529.10,340.59 529.28,340.55 529.46,340.51 529.65,340.47 529.83,340.44 530.02,340.40 530.20,340.36 530.38,340.32 530.57,340.29 530.75,340.25 530.94,340.21 531.12,340.18 531.31,340.14 531.49,340.11 531.67,340.07 531.86,340.03 532.04,340.00 532.23,339.96 532.41,339.93 532.59,339.89 532.78,339.86 532.96,339.82 533.15,339.79 533.33,339.76 533.51,339.72 533.70,339.69 533.88,339.65 534.07,339.62 534.25,339.59 534.44,339.55 534.62,339.52 534.80,339.49 534.99,339.45 535.17,339.42 535.36,339.39 535.54,339.36 535.72,339.32 535.91,339.29 536.09,339.26 536.28,339.23 536.46,339.19 536.64,339.16 538.49,338.85 540.33,338.56 542.17,338.27 544.01,338.00 545.85,337.74 547.69,337.49 549.53,337.24 551.37,337.01 553.22,336.78 555.06,336.57 556.90,336.36 558.74,336.15 560.58,335.96 562.42,335.77 564.26,335.58 566.10,335.41 567.95,335.24 569.79,335.07 571.63,334.91 573.47,334.75 575.31,334.60 577.15,334.45 578.99,334.30 580.83,334.16 582.68,334.03 584.52,333.90 586.36,333.77 588.20,333.64 590.04,333.52 591.88,333.40 593.72,333.28 595.56,333.17 597.40,333.06 599.25,332.95 601.09,332.85 602.93,332.74 604.77,332.64 606.61,332.55 608.45,332.45 610.29,332.36 612.13,332.26 613.98,332.17 615.82,332.09 617.66,332.00 619.50,331.92 621.34,331.83 623.18,331.75 625.02,331.67 626.86,331.60 628.71,331.52 630.55,331.45 632.39,331.37 634.23,331.30 636.07,331.23 637.91,331.16 639.75,331.09 641.59,331.03 643.43,330.96 645.28,330.90 647.12,330.84 648.96,330.78 650.80,330.71 652.64,330.65 654.48,330.60 656.32,330.54 658.16,330.48 660.01,330.43 660.93,330.40" fill="none" stroke="#e8263a" stroke-width="1.5" stroke-linejoin="round" />
<line x1="467.60" y1="447.20" x2="467.60" y2="456.90" stroke="#e8263a" stroke-width="1.3" />
<line x1="465.20" y1="447.20" x2="470.00" y2="447.20" stroke="#e8263a" stroke-width="1.3" />
<line x1="465.20" y1="456.90" x2="470.00" y2="456.90" stroke="#e8263a" stroke-width="1.3" />
<rect x="463.30" y="447.70" width="8.6" height="8.6" fill="none" stroke="#e8263a" stroke-width="1.35"/>
<line x1="474.50" y1="373.40" x2="474.50" y2="399.20" stroke="#e8263a" stroke-width="1.3" />
<line x1="472.10" y1="373.40" x2="476.90" y2="373.40" stroke="#e8263a" stroke-width="1.3" />
<line x1="472.10" y1="399.20" x2="476.90" y2="399.20" stroke="#e8263a" stroke-width="1.3" />
<rect x="470.20" y="382.20" width="8.6" height="8.6" fill="none" stroke="#e8263a" stroke-width="1.35"/>
<line x1="493.19" y1="345.20" x2="493.19" y2="366.00" stroke="#e8263a" stroke-width="1.3" />
<line x1="490.79" y1="345.20" x2="495.59" y2="345.20" stroke="#e8263a" stroke-width="1.3" />
<line x1="490.79" y1="366.00" x2="495.59" y2="366.00" stroke="#e8263a" stroke-width="1.3" />
<rect x="488.89" y="351.40" width="8.6" height="8.6" fill="none" stroke="#e8263a" stroke-width="1.35"/>
<line x1="522.84" y1="327.80" x2="522.84" y2="358.40" stroke="#e8263a" stroke-width="1.3" />
<line x1="520.44" y1="327.80" x2="525.24" y2="327.80" stroke="#e8263a" stroke-width="1.3" />
<line x1="520.44" y1="358.40" x2="525.24" y2="358.40" stroke="#e8263a" stroke-width="1.3" />
<rect x="518.54" y="339.20" width="8.6" height="8.6" fill="none" stroke="#e8263a" stroke-width="1.35"/>
<line x1="660.93" y1="300.40" x2="660.93" y2="363.10" stroke="#e8263a" stroke-width="1.3" />
<line x1="658.53" y1="300.40" x2="663.33" y2="300.40" stroke="#e8263a" stroke-width="1.3" />
<line x1="658.53" y1="363.10" x2="663.33" y2="363.10" stroke="#e8263a" stroke-width="1.3" />
<rect x="656.63" y="327.60" width="8.6" height="8.6" fill="none" stroke="#e8263a" stroke-width="1.35"/>
<text transform="translate(460.75,297.00) scale(1.0485,1)" font-size="16.41" fill="#231f20" >I:&#160; Cl</text>
<text transform="translate(460.93,318.20) scale(1.0466,1)" font-size="16.41" fill="#231f20" >E: Cl</text>
<text transform="translate(529.23,431.00) scale(1.0129,1)" font-size="16.86" fill="#231f20" >EC</text>
<text transform="translate(553.58,436.70) scale(1.0338,1)" font-size="10.14" fill="#231f20" >50</text>
<text transform="translate(569.03,431.00) scale(1.0340,1)" font-size="16.86" fill="#231f20" >= 133 μM</text>
<text transform="translate(568.14,318.10) scale(1.0119,1)" font-size="17.00" fill="#231f20" >+ GAD67</text>
<text transform="translate(497.29,530.20) scale(0.9651,1)" font-size="23.86" fill="#231f20" >[Ca</text>
<text transform="translate(533.68,522.80) scale(1.0130,1)" font-size="14.14" fill="#231f20" >2+</text>
<text transform="translate(549.56,530.20) scale(1.0000,1)" font-size="23.86" fill="#231f20" >]</text>
<text transform="translate(556.28,537.80) scale(1.0000,1)" font-size="12.69" fill="#231f20" >i</text>
<text transform="translate(565.54,530.20) scale(1.0284,1)" font-size="23.59" fill="#231f20" >(μM)</text>
<text transform="translate(380.60,491.50) rotate(-90) scale(1.0000,1)" font-size="22.61" fill="#231f20" font-style="italic">I</text>
<text transform="translate(386.40,485.08) rotate(-90) scale(0.9778,1)" font-size="16.41" fill="#231f20">steady-state @ 100 mV</text>
<text transform="translate(406.70,449.10) rotate(-90) scale(1.0289,1)" font-size="21.10" fill="#231f20">(pA/pF)</text>
<text transform="translate(98.71,585.40) scale(0.9739,1)" font-size="17.83" fill="#231f20" >Best1</text>
<text transform="translate(235.54,585.40) scale(1.0341,1)" font-size="16.57" fill="#231f20" >+ GAD65</text>
<line x1="35.30" y1="654.50" x2="348.50" y2="654.50" stroke="#000" stroke-width="1.25" stroke-dasharray="8.8 6.40"/>
<rect x="61.20" y="652.00" width="12.30" height="2.80" fill="#000" />
<rect x="73.30" y="650.40" width="91.50" height="9.60" fill="#000" />
<polyline points="73.30,642.18 74.30,642.06 75.30,642.41 76.30,642.00 77.30,642.33 78.30,642.21 79.30,641.99 80.30,642.31 81.30,641.98 82.30,642.25 83.30,642.00 84.30,642.01 85.30,642.25 86.30,642.53 87.30,642.04 88.30,642.11 89.30,642.39 90.30,642.61 91.30,642.35 92.30,642.23 93.30,642.63 94.30,641.98 95.30,642.55 96.30,642.15 97.30,642.05 98.30,642.03 99.30,642.17 100.30,642.52 101.30,642.08 102.30,642.36 103.30,642.40 104.30,642.21 105.30,642.33 106.30,641.99 107.30,641.99 108.30,642.09 109.30,642.43 110.30,642.25 111.30,642.17 112.30,642.36 113.30,642.27 114.30,642.16 115.30,642.51 116.30,642.44 117.30,642.12 118.30,642.35 119.30,642.32 120.30,642.56 121.30,642.46 122.30,642.15 123.30,642.64 124.30,642.03 125.30,642.24 126.30,642.48 127.30,642.06 128.30,642.29 129.30,641.98 130.30,642.42 131.30,642.49 132.30,642.35 133.30,642.56 134.30,642.17 135.30,642.44 136.30,642.37 137.30,642.36 138.30,642.27 139.30,642.54 140.30,642.61 141.30,642.28 142.30,642.41 143.30,641.99 144.30,642.44 145.30,642.40 146.30,642.65 147.30,642.53 148.30,642.15 149.30,642.22 150.30,642.42 151.30,641.97 152.30,642.27 153.30,642.07 154.30,642.03 155.30,641.99 156.30,642.49 157.30,642.04 158.30,642.12 159.30,642.22 160.30,642.56 161.30,642.01 162.30,642.26 163.30,642.33 164.30,642.57" fill="none" stroke="#000" stroke-width="1.6" stroke-linejoin="round" />
<polyline points="73.30,644.52 74.30,644.55 75.30,644.14 76.30,644.24 77.30,644.20 78.30,644.57 79.30,644.62 80.30,644.06 81.30,644.07 82.30,644.11 83.30,644.11 84.30,644.29 85.30,644.36 86.30,644.13 87.30,643.95 88.30,644.24 89.30,644.21 90.30,644.35 91.30,644.62 92.30,644.43 93.30,644.31 94.30,644.38 95.30,644.42 96.30,643.99 97.30,644.58 98.30,644.50 99.30,644.56 100.30,644.51 101.30,644.22 102.30,644.23 103.30,644.02 104.30,644.39 105.30,643.99 106.30,644.00 107.30,644.10 108.30,644.06 109.30,644.19 110.30,643.99 111.30,643.95 112.30,644.06 113.30,644.02 114.30,644.20 115.30,643.97 116.30,644.56 117.30,644.38 118.30,644.05 119.30,644.13 120.30,644.19 121.30,644.20 122.30,644.04 123.30,644.54 124.30,644.65 125.30,644.28 126.30,644.29 127.30,644.01 128.30,644.02 129.30,644.19 130.30,644.14 131.30,644.53 132.30,644.06 133.30,643.97 134.30,644.62 135.30,644.32 136.30,644.05 137.30,644.33 138.30,643.97 139.30,644.32 140.30,644.63 141.30,644.55 142.30,644.44 143.30,644.13 144.30,644.21 145.30,644.07 146.30,644.49 147.30,644.32 148.30,644.50 149.30,644.18 150.30,644.11 151.30,644.52 152.30,644.64 153.30,644.55 154.30,644.51 155.30,644.52 156.30,644.47 157.30,644.11 158.30,644.31 159.30,644.20 160.30,643.97 161.30,643.97 162.30,644.15 163.30,644.13 164.30,644.43" fill="none" stroke="#000" stroke-width="1.0" stroke-linejoin="round" />
<polyline points="73.30,646.82 74.30,646.46 75.30,646.81 76.30,646.84 77.30,646.82 78.30,646.41 79.30,646.30 80.30,646.31 81.30,646.29 82.30,646.29 83.30,646.59 84.30,646.78 85.30,646.74 86.30,646.49 87.30,646.61 88.30,646.71 89.30,646.21 90.30,646.61 91.30,646.79 92.30,646.70 93.30,646.68 94.30,646.48 95.30,646.27 96.30,646.70 97.30,646.38 98.30,646.71 99.30,646.83 100.30,646.43 101.30,646.43 102.30,646.81 103.30,646.66 104.30,646.27 105.30,646.24 106.30,646.26 107.30,646.78 108.30,646.71 109.30,646.25 110.30,646.73 111.30,646.84 112.30,646.61 113.30,646.40 114.30,646.53 115.30,646.24 116.30,646.16 117.30,646.83 118.30,646.60 119.30,646.52 120.30,646.80 121.30,646.45 122.30,646.76 123.30,646.73 124.30,646.30 125.30,646.33 126.30,646.36 127.30,646.32 128.30,646.56 129.30,646.33 130.30,646.44 131.30,646.24 132.30,646.79 133.30,646.40 134.30,646.47 135.30,646.56 136.30,646.78 137.30,646.44 138.30,646.79 139.30,646.50 140.30,646.52 141.30,646.52 142.30,646.16 143.30,646.46 144.30,646.28 145.30,646.15 146.30,646.71 147.30,646.27 148.30,646.48 149.30,646.66 150.30,646.54 151.30,646.38 152.30,646.51 153.30,646.54 154.30,646.70 155.30,646.22 156.30,646.54 157.30,646.32 158.30,646.34 159.30,646.69 160.30,646.51 161.30,646.54 162.30,646.68 163.30,646.79 164.30,646.46" fill="none" stroke="#000" stroke-width="1.3" stroke-linejoin="round" />
<polyline points="73.30,648.98 74.30,648.90 75.30,648.91 76.30,649.03 77.30,648.87 78.30,648.92 79.30,648.88 80.30,649.21 81.30,649.04 82.30,649.16 83.30,649.21 84.30,648.73 85.30,648.94 86.30,649.21 87.30,649.14 88.30,648.65 89.30,648.64 90.30,648.86 91.30,648.60 92.30,648.72 93.30,648.60 94.30,649.02 95.30,649.10 96.30,649.18 97.30,648.66 98.30,649.05 99.30,649.01 100.30,648.65 101.30,649.17 102.30,649.23 103.30,648.70 104.30,649.22 105.30,648.83 106.30,648.89 107.30,649.24 108.30,649.13 109.30,648.66 110.30,648.85 111.30,648.91 112.30,648.79 113.30,648.69 114.30,648.77 115.30,649.06 116.30,648.56 117.30,648.94 118.30,648.86 119.30,648.56 120.30,648.78 121.30,648.99 122.30,648.91 123.30,648.60 124.30,649.24 125.30,649.10 126.30,649.23 127.30,648.62 128.30,648.74 129.30,648.58 130.30,649.10 131.30,648.74 132.30,648.64 133.30,648.85 134.30,649.19 135.30,649.12 136.30,648.73 137.30,648.65 138.30,649.19 139.30,648.95 140.30,649.04 141.30,648.61 142.30,648.59 143.30,649.03 144.30,648.85 145.30,648.60 146.30,649.21 147.30,648.99 148.30,649.11 149.30,648.61 150.30,649.15 151.30,648.60 152.30,649.15 153.30,648.87 154.30,648.79 155.30,648.94 156.30,649.20 157.30,648.74 158.30,648.64 159.30,648.92 160.30,648.72 161.30,648.63 162.30,648.66 163.30,648.59 164.30,648.69" fill="none" stroke="#000" stroke-width="1.0" stroke-linejoin="round" />
<polyline points="73.30,650.17 74.30,650.16 75.30,650.48 76.30,650.15 77.30,650.30 78.30,650.07 79.30,650.19 80.30,649.96 81.30,650.13 82.30,649.96 83.30,650.46 84.30,650.34 85.30,650.08 86.30,650.28 87.30,650.60 88.30,650.02 89.30,650.52 90.30,650.25 91.30,650.30 92.30,650.53 93.30,650.23 94.30,650.30 95.30,650.43 96.30,650.64 97.30,650.19 98.30,650.53 99.30,650.44 100.30,650.40 101.30,650.23 102.30,650.19 103.30,649.99 104.30,650.04 105.30,650.00 106.30,650.47 107.30,650.13 108.30,650.06 109.30,650.01 110.30,650.54 111.30,650.56 112.30,650.42 113.30,650.15 114.30,650.12 115.30,650.16 116.30,650.27 117.30,650.06 118.30,650.26 119.30,650.13 120.30,650.62 121.30,650.63 122.30,650.33 123.30,650.12 124.30,650.63 125.30,650.17 126.30,650.20 127.30,649.95 128.30,650.22 129.30,650.28 130.30,650.30 131.30,650.09 132.30,650.30 133.30,649.95 134.30,650.13 135.30,650.01 136.30,650.23 137.30,649.98 138.30,649.97 139.30,650.16 140.30,650.11 141.30,650.36 142.30,650.32 143.30,650.48 144.30,650.41 145.30,650.45 146.30,650.57 147.30,650.22 148.30,650.18 149.30,650.64 150.30,650.05 151.30,650.46 152.30,650.40 153.30,649.98 154.30,650.53 155.30,650.57 156.30,650.39 157.30,650.46 158.30,650.52 159.30,650.05 160.30,650.32 161.30,650.30 162.30,650.53 163.30,650.51 164.30,650.53" fill="none" stroke="#000" stroke-width="0.9" stroke-linejoin="round" />
<polyline points="73.30,660.06 74.30,660.27 75.30,660.13 76.30,660.14 77.30,659.81 78.30,659.67 79.30,659.74 80.30,659.90 81.30,659.72 82.30,660.24 83.30,660.04 84.30,660.09 85.30,660.09 86.30,660.13 87.30,659.99 88.30,659.65 89.30,660.21 90.30,660.17 91.30,660.00 92.30,660.02 93.30,660.11 94.30,659.70 95.30,660.17 96.30,659.83 97.30,659.70 98.30,659.84 99.30,660.16 100.30,659.79 101.30,660.17 102.30,660.33 103.30,660.00 104.30,659.92 105.30,659.99 106.30,660.13 107.30,660.19 108.30,660.08 109.30,660.10 110.30,659.70 111.30,659.75 112.30,659.83 113.30,660.17 114.30,659.86 115.30,660.05 116.30,659.66 117.30,659.69 118.30,659.84 119.30,660.12 120.30,660.13 121.30,660.12 122.30,659.85 123.30,660.01 124.30,659.98 125.30,659.98 126.30,659.73 127.30,660.28 128.30,659.79 129.30,660.33 130.30,660.31 131.30,659.66 132.30,659.97 133.30,660.22 134.30,660.33 135.30,659.96 136.30,659.84 137.30,659.80 138.30,660.31 139.30,659.80 140.30,660.06 141.30,659.75 142.30,660.02 143.30,660.32 144.30,659.74 145.30,660.22 146.30,660.01 147.30,660.27 148.30,660.14 149.30,659.81 150.30,660.28 151.30,659.99 152.30,659.67 153.30,659.65 154.30,659.99 155.30,659.97 156.30,659.86 157.30,659.75 158.30,659.89 159.30,659.87 160.30,660.24 161.30,659.65 162.30,660.18 163.30,660.24 164.30,659.73" fill="none" stroke="#000" stroke-width="1.0" stroke-linejoin="round" />
<line x1="73.30" y1="639.20" x2="73.30" y2="662.80" stroke="#000" stroke-width="1.2" />
<line x1="164.80" y1="640.30" x2="164.80" y2="656.30" stroke="#000" stroke-width="1.2" />
<rect x="164.80" y="655.90" width="30.70" height="4.50" fill="#000" />
<polyline points="227.00,603.10 228.99,602.77 230.98,602.45 232.97,602.16 234.97,601.89 236.96,601.63 238.95,601.39 240.94,601.17 242.93,600.96 244.92,600.76 246.91,600.58 248.90,600.41 250.90,600.24 252.89,600.09 254.88,599.95 256.87,599.82 258.86,599.70 260.85,599.58 262.84,599.47 264.83,599.37 266.83,599.28 268.82,599.19 270.81,599.11 272.80,599.03 274.79,598.96 276.78,598.89 278.77,598.83 280.77,598.77 282.76,598.71 284.75,598.66 286.74,598.61 288.73,598.56 290.72,598.52 292.71,598.48 294.70,598.44 296.70,598.41 298.69,598.38 300.68,598.35 302.67,598.32 304.66,598.29 306.65,598.27 308.64,598.24 310.63,598.22 312.63,598.20 314.62,598.18 316.61,598.16 318.60,598.15" fill="none" stroke="#111" stroke-width="1.15" stroke-linejoin="round" />
<polyline points="227.00,613.50 228.99,613.23 230.98,612.98 232.97,612.77 234.97,612.57 236.96,612.40 238.95,612.24 240.94,612.10 242.93,611.97 244.92,611.86 246.91,611.76 248.90,611.67 250.90,611.59 252.89,611.52 254.88,611.45 256.87,611.39 258.86,611.34 260.85,611.30 262.84,611.25 264.83,611.22 266.83,611.18 268.82,611.15 270.81,611.13 272.80,611.10 274.79,611.08 276.78,611.06 278.77,611.05 280.77,611.03 282.76,611.02 284.75,611.01 286.74,610.99 288.73,610.98 290.72,610.98 292.71,610.97 294.70,610.96 296.70,610.95 298.69,610.95 300.68,610.94 302.67,610.94 304.66,610.93 306.65,610.93 308.64,610.93 310.63,610.92 312.63,610.92 314.62,610.92 316.61,610.92 318.60,610.92" fill="none" stroke="#111" stroke-width="1.15" stroke-linejoin="round" />
<polyline points="227.00,624.60 228.99,624.39 230.98,624.20 232.97,624.05 234.97,623.92 236.96,623.81 238.95,623.72 240.94,623.64 242.93,623.57 244.92,623.51 246.91,623.47 248.90,623.43 250.90,623.39 252.89,623.36 254.88,623.34 256.87,623.32 258.86,623.30 260.85,623.28 262.84,623.27 264.83,623.26 266.83,623.25 268.82,623.24 270.81,623.24 272.80,623.23 274.79,623.23 276.78,623.22 278.77,623.22 280.77,623.22 282.76,623.21 284.75,623.21 286.74,623.21 288.73,623.21 290.72,623.21 292.71,623.21 294.70,623.20 296.70,623.20 298.69,623.20 300.68,623.20 302.67,623.20 304.66,623.20 306.65,623.20 308.64,623.20 310.63,623.20 312.63,623.20 314.62,623.20 316.61,623.20 318.60,623.20" fill="none" stroke="#111" stroke-width="1.15" stroke-linejoin="round" />
<polyline points="227.00,634.50 228.99,634.42 230.98,634.35 232.97,634.31 234.97,634.28 236.96,634.26 238.95,634.24 240.94,634.23 242.93,634.22 244.92,634.22 246.91,634.21 248.90,634.21 250.90,634.21 252.89,634.20 254.88,634.20 256.87,634.20 258.86,634.20 260.85,634.20 262.84,634.20 264.83,634.20 266.83,634.20 268.82,634.20 270.81,634.20 272.80,634.20 274.79,634.20 276.78,634.20 278.77,634.20 280.77,634.20 282.76,634.20 284.75,634.20 286.74,634.20 288.73,634.20 290.72,634.20 292.71,634.20 294.70,634.20 296.70,634.20 298.69,634.20 300.68,634.20 302.67,634.20 304.66,634.20 306.65,634.20 308.64,634.20 310.63,634.20 312.63,634.20 314.62,634.20 316.61,634.20 318.60,634.20" fill="none" stroke="#111" stroke-width="1.15" stroke-linejoin="round" />
<polyline points="227.00,644.30 228.99,644.24 230.98,644.20 232.97,644.17 234.97,644.15 236.96,644.14 238.95,644.13 240.94,644.12 242.93,644.11 244.92,644.11 246.91,644.11 248.90,644.11 250.90,644.10 252.89,644.10 254.88,644.10 256.87,644.10 258.86,644.10 260.85,644.10 262.84,644.10 264.83,644.10 266.83,644.10 268.82,644.10 270.81,644.10 272.80,644.10 274.79,644.10 276.78,644.10 278.77,644.10 280.77,644.10 282.76,644.10 284.75,644.10 286.74,644.10 288.73,644.10 290.72,644.10 292.71,644.10 294.70,644.10 296.70,644.10 298.69,644.10 300.68,644.10 302.67,644.10 304.66,644.10 306.65,644.10 308.64,644.10 310.63,644.10 312.63,644.10 314.62,644.10 316.61,644.10 318.60,644.10" fill="none" stroke="#111" stroke-width="1.15" stroke-linejoin="round" />
<polyline points="227.00,653.90 228.99,653.90 230.98,653.90 232.97,653.90 234.97,653.90 236.96,653.90 238.95,653.90 240.94,653.90 242.93,653.90 244.92,653.90 246.91,653.90 248.90,653.90 250.90,653.90 252.89,653.90 254.88,653.90 256.87,653.90 258.86,653.90 260.85,653.90 262.84,653.90 264.83,653.90 266.83,653.90 268.82,653.90 270.81,653.90 272.80,653.90 274.79,653.90 276.78,653.90 278.77,653.90 280.77,653.90 282.76,653.90 284.75,653.90 286.74,653.90 288.73,653.90 290.72,653.90 292.71,653.90 294.70,653.90 296.70,653.90 298.69,653.90 300.68,653.90 302.67,653.90 304.66,653.90 306.65,653.90 308.64,653.90 310.63,653.90 312.63,653.90 314.62,653.90 316.61,653.90 318.60,653.90" fill="none" stroke="#111" stroke-width="1.15" stroke-linejoin="round" />
<polyline points="227.00,662.70 228.99,662.59 230.98,662.51 232.97,662.45 234.97,662.41 236.96,662.38 238.95,662.35 240.94,662.34 242.93,662.33 244.92,662.32 246.91,662.31 248.90,662.31 250.90,662.31 252.89,662.31 254.88,662.30 256.87,662.30 258.86,662.30 260.85,662.30 262.84,662.30 264.83,662.30 266.83,662.30 268.82,662.30 270.81,662.30 272.80,662.30 274.79,662.30 276.78,662.30 278.77,662.30 280.77,662.30 282.76,662.30 284.75,662.30 286.74,662.30 288.73,662.30 290.72,662.30 292.71,662.30 294.70,662.30 296.70,662.30 298.69,662.30 300.68,662.30 302.67,662.30 304.66,662.30 306.65,662.30 308.64,662.30 310.63,662.30 312.63,662.30 314.62,662.30 316.61,662.30 318.60,662.30" fill="none" stroke="#111" stroke-width="1.15" stroke-linejoin="round" />
<polyline points="227.00,671.50 228.99,671.36 230.98,671.25 232.97,671.15 234.97,671.06 236.96,670.99 238.95,670.93 240.94,670.88 242.93,670.84 244.92,670.80 246.91,670.77 248.90,670.75 250.90,670.72 252.89,670.70 254.88,670.69 256.87,670.67 258.86,670.66 260.85,670.65 262.84,670.65 264.83,670.64 266.83,670.63 268.82,670.63 270.81,670.62 272.80,670.62 274.79,670.62 276.78,670.61 278.77,670.61 280.77,670.61 282.76,670.61 284.75,670.61 286.74,670.61 288.73,670.61 290.72,670.60 292.71,670.60 294.70,670.60 296.70,670.60 298.69,670.60 300.68,670.60 302.67,670.60 304.66,670.60 306.65,670.60 308.64,670.60 310.63,670.60 312.63,670.60 314.62,670.60 316.61,670.60 318.60,670.60" fill="none" stroke="#111" stroke-width="1.15" stroke-linejoin="round" />
<polyline points="227.00,680.60 228.99,680.46 230.98,680.34 232.97,680.23 234.97,680.14 236.96,680.05 238.95,679.97 240.94,679.90 242.93,679.84 244.92,679.78 246.91,679.73 248.90,679.68 250.90,679.64 252.89,679.61 254.88,679.58 256.87,679.55 258.86,679.52 260.85,679.50 262.84,679.48 264.83,679.46 266.83,679.44 268.82,679.43 270.81,679.41 272.80,679.40 274.79,679.39 276.78,679.38 278.77,679.37 280.77,679.37 282.76,679.36 284.75,679.35 286.74,679.35 288.73,679.34 290.72,679.34 292.71,679.33 294.70,679.33 296.70,679.33 298.69,679.32 300.68,679.32 302.67,679.32 304.66,679.32 306.65,679.32 308.64,679.31 310.63,679.31 312.63,679.31 314.62,679.31 316.61,679.31 318.60,679.31" fill="none" stroke="#111" stroke-width="1.15" stroke-linejoin="round" />
<polyline points="227.00,689.20 228.99,689.04 230.98,688.89 232.97,688.76 234.97,688.64 236.96,688.52 238.95,688.42 240.94,688.32 242.93,688.23 244.92,688.15 246.91,688.07 248.90,688.00 250.90,687.94 252.89,687.88 254.88,687.83 256.87,687.78 258.86,687.73 260.85,687.69 262.84,687.65 264.83,687.61 266.83,687.58 268.82,687.55 270.81,687.52 272.80,687.50 274.79,687.47 276.78,687.45 278.77,687.43 280.77,687.41 282.76,687.40 284.75,687.38 286.74,687.37 288.73,687.35 290.72,687.34 292.71,687.33 294.70,687.32 296.70,687.31 298.69,687.30 300.68,687.29 302.67,687.29 304.66,687.28 306.65,687.27 308.64,687.27 310.63,687.26 312.63,687.26 314.62,687.25 316.61,687.25 318.60,687.24" fill="none" stroke="#111" stroke-width="1.15" stroke-linejoin="round" />
<polyline points="227.00,698.00 228.99,697.85 230.98,697.71 232.97,697.58 234.97,697.46 236.96,697.35 238.95,697.24 240.94,697.15 242.93,697.05 244.92,696.97 246.91,696.88 248.90,696.81 250.90,696.74 252.89,696.67 254.88,696.61 256.87,696.55 258.86,696.50 260.85,696.44 262.84,696.40 264.83,696.35 266.83,696.31 268.82,696.27 270.81,696.23 272.80,696.20 274.79,696.17 276.78,696.14 278.77,696.11 280.77,696.08 282.76,696.06 284.75,696.04 286.74,696.01 288.73,695.99 290.72,695.97 292.71,695.96 294.70,695.94 296.70,695.93 298.69,695.91 300.68,695.90 302.67,695.88 304.66,695.87 306.65,695.86 308.64,695.85 310.63,695.84 312.63,695.83 314.62,695.82 316.61,695.82 318.60,695.81" fill="none" stroke="#111" stroke-width="1.15" stroke-linejoin="round" />
<rect x="214.80" y="652.70" width="12.20" height="2.60" fill="#000" />
<line x1="227.00" y1="603.00" x2="227.00" y2="698.30" stroke="#111" stroke-width="1.1" />
<line x1="318.60" y1="597.40" x2="318.60" y2="708.50" stroke="#111" stroke-width="1.3" />
<path d="M318.60,696.00 L318.60,696.00 L319.38,696.00 L320.15,696.00 L320.93,696.00 L321.70,696.00 L322.48,696.00 L323.25,696.00 L324.03,696.00 L324.80,696.00 L325.58,696.00 L326.35,696.00 L327.12,696.00 L327.90,696.00 L328.68,696.00 L329.45,696.00 L330.23,696.00 L331.00,696.00 L331.78,696.00 L332.55,696.00 L333.33,696.00 L334.10,696.00 L334.88,696.00 L335.65,696.00 L336.43,696.00 L337.20,696.00 L337.98,696.00 L338.75,696.00 L339.53,696.00 L340.30,696.00 L341.08,696.00 L341.85,696.00 L342.62,696.00 L343.40,696.00 L344.18,696.00 L344.95,696.00 L345.73,696.00 L346.50,696.00 L347.28,696.00 L348.05,696.00 L348.83,696.00 L349.60,696.00 L349.60,696.34 L348.83,696.35 L348.05,696.36 L347.28,696.37 L346.50,696.38 L345.73,696.39 L344.95,696.40 L344.18,696.42 L343.40,696.43 L342.62,696.45 L341.85,696.48 L341.08,696.50 L340.30,696.54 L339.53,696.57 L338.75,696.61 L337.98,696.66 L337.20,696.71 L336.43,696.78 L335.65,696.85 L334.88,696.93 L334.10,697.03 L333.33,697.14 L332.55,697.27 L331.78,697.41 L331.00,697.58 L330.23,697.77 L329.45,698.00 L328.68,698.25 L327.90,698.55 L327.12,698.89 L326.35,699.28 L325.58,699.73 L324.80,700.25 L324.03,700.85 L323.25,701.54 L322.48,702.33 L321.70,703.24 L320.93,704.29 L320.15,705.50 L319.38,706.90 L318.60,708.50 Z" fill="#111" stroke="#111" stroke-width="0.8"/>
<line x1="117.00" y1="710.50" x2="157.30" y2="710.50" stroke="#222" stroke-width="1.1" />
<line x1="117.00" y1="714.30" x2="157.30" y2="714.30" stroke="#222" stroke-width="1.1" />
<line x1="117.00" y1="718.20" x2="157.30" y2="718.20" stroke="#222" stroke-width="1.1" />
<line x1="117.00" y1="721.70" x2="157.30" y2="721.70" stroke="#222" stroke-width="1.1" />
<line x1="117.00" y1="725.10" x2="170.50" y2="725.10" stroke="#222" stroke-width="1.1" />
<line x1="117.00" y1="710.00" x2="117.00" y2="725.60" stroke="#222" stroke-width="1.1" />
<line x1="157.30" y1="710.00" x2="157.30" y2="725.60" stroke="#222" stroke-width="1.1" />
<line x1="119.50" y1="730.50" x2="166.50" y2="730.50" stroke="#222" stroke-width="1.1" />
<path d="M117.4,730.5 L122.8,727.6 L121.3,730.5 L122.8,733.4 Z" fill="#222"/>
<path d="M168.6,730.5 L163.2,727.6 L164.7,730.5 L163.2,733.4 Z" fill="#222"/>
<text transform="translate(65.00,716.80) scale(1.1029,1)" font-size="10.86" fill="#231f20" >+100 mV</text>
<text transform="translate(64.66,730.70) scale(1.1039,1)" font-size="10.86" fill="#231f20" >- 100 mV</text>
<text transform="translate(171.14,732.70) scale(1.0273,1)" font-size="12.46" fill="#231f20" >1s</text>
<text transform="translate(253.15,733.40) scale(1.1124,1)" font-size="11.43" fill="#231f20" >150 ms</text>
<text transform="translate(297.95,752.60) scale(1.0637,1)" font-size="12.14" fill="#231f20" >600 pA</text>
<polyline points="271.4,739.1 292.9,739.1 292.9,757.9" fill="none" stroke="#231f20" stroke-width="1.5"/>
<line x1="454.20" y1="584.20" x2="454.20" y2="765.20" stroke="#000" stroke-width="1.6" />
<line x1="449.90" y1="764.30" x2="454.20" y2="764.30" stroke="#000" stroke-width="1.5" />
<line x1="451.70" y1="741.88" x2="454.20" y2="741.88" stroke="#000" stroke-width="1.5" />
<line x1="449.90" y1="719.45" x2="454.20" y2="719.45" stroke="#000" stroke-width="1.5" />
<line x1="451.70" y1="697.02" x2="454.20" y2="697.02" stroke="#000" stroke-width="1.5" />
<line x1="449.90" y1="674.60" x2="454.20" y2="674.60" stroke="#000" stroke-width="1.5" />
<line x1="451.70" y1="652.18" x2="454.20" y2="652.18" stroke="#000" stroke-width="1.5" />
<line x1="449.90" y1="629.75" x2="454.20" y2="629.75" stroke="#000" stroke-width="1.5" />
<line x1="451.70" y1="607.33" x2="454.20" y2="607.33" stroke="#000" stroke-width="1.5" />
<line x1="449.90" y1="584.90" x2="454.20" y2="584.90" stroke="#000" stroke-width="1.5" />
<text transform="translate(418.17,589.80) scale(1.0418,1)" font-size="17.86" fill="#000" class="k" >200</text>
<text transform="translate(419.13,634.70) scale(1.0261,1)" font-size="17.86" fill="#000" class="k" >100</text>
<text transform="translate(438.73,679.60) scale(1.0643,1)" font-size="18.00" fill="#000" class="k" >0</text>
<text transform="translate(412.36,724.80) scale(1.0357,1)" font-size="18.00" fill="#000" class="k" >-100</text>
<text transform="translate(412.36,770.50) scale(1.0357,1)" font-size="18.00" fill="#000" class="k" >-200</text>
<line x1="458.00" y1="767.90" x2="680.20" y2="767.90" stroke="#000" stroke-width="1.8" />
<line x1="468.30" y1="767.90" x2="468.30" y2="772.60" stroke="#000" stroke-width="1.5" />
<line x1="493.40" y1="767.90" x2="493.40" y2="771.20" stroke="#000" stroke-width="1.5" />
<line x1="518.50" y1="767.90" x2="518.50" y2="772.60" stroke="#000" stroke-width="1.5" />
<line x1="543.60" y1="767.90" x2="543.60" y2="771.20" stroke="#000" stroke-width="1.5" />
<line x1="568.70" y1="767.90" x2="568.70" y2="772.60" stroke="#000" stroke-width="1.5" />
<line x1="593.80" y1="767.90" x2="593.80" y2="771.20" stroke="#000" stroke-width="1.5" />
<line x1="618.90" y1="767.90" x2="618.90" y2="772.60" stroke="#000" stroke-width="1.5" />
<line x1="644.00" y1="767.90" x2="644.00" y2="771.20" stroke="#000" stroke-width="1.5" />
<line x1="669.10" y1="767.90" x2="669.10" y2="772.60" stroke="#000" stroke-width="1.5" />
<text transform="translate(450.24,787.70) scale(1.0589,1)" font-size="18.00" fill="#000" class="k" >-100</text>
<text transform="translate(505.45,787.70) scale(1.0539,1)" font-size="18.00" fill="#000" class="k" >-50</text>
<text transform="translate(564.38,787.70) scale(1.0058,1)" font-size="18.00" fill="#000" class="k" >0</text>
<text transform="translate(608.87,787.70) scale(1.0140,1)" font-size="18.00" fill="#000" class="k" >50</text>
<text transform="translate(654.50,787.70) scale(0.9606,1)" font-size="18.00" fill="#000" class="k" >100</text>
<text transform="translate(507.38,818.00) scale(1.0262,1)" font-size="23.17" fill="#231f20" >Voltage (mV)</text>
<line x1="457.30" y1="674.90" x2="677.00" y2="674.90" stroke="#000" stroke-width="1.3" stroke-dasharray="7.4 5.30"/>
<line x1="568.70" y1="585.50" x2="568.70" y2="767.50" stroke="#000" stroke-width="1.3" stroke-dasharray="7.0 4.68"/>
<text transform="translate(460.65,588.00) scale(1.0883,1)" font-size="15.86" fill="#231f20" >I:&#160; Cl</text>
<text transform="translate(460.83,608.00) scale(1.0767,1)" font-size="15.86" fill="#231f20" >E: Cl</text>
<text transform="translate(584.64,584.60) scale(1.0105,1)" font-size="17.00" fill="#231f20" >+ GAD67</text>
<text transform="translate(584.64,606.50) scale(1.0080,1)" font-size="17.00" fill="#231f20" >+ GAD65</text>
<text transform="translate(667.15,589.99) scale(1.0541,1)" font-size="21.14" fill="#231f20" >*</text>
<text transform="translate(667.15,628.49) scale(1.0685,1)" font-size="20.86" fill="#231f20" >*</text>
<text transform="translate(399.90,678.72) rotate(-90) scale(1.0217,1)" font-size="23.17" fill="#231f20">(pA/pF)</text>
<text transform="translate(406.40,782.53) rotate(-90) scale(0.9719,1)" font-size="18.07" fill="#231f20">steady-state</text>
<text transform="translate(399.60,788.53) rotate(-90) scale(1.0000,1)" font-size="23.19" fill="#231f20" font-style="italic">I</text>
<polyline points="468.30,689.50 488.38,686.00 508.46,683.40 528.54,680.40 548.62,677.60 568.70,674.60 588.78,671.20 608.86,667.00 628.94,662.10 649.02,656.60 669.10,649.30" fill="none" stroke="#000" stroke-width="1.4" stroke-linejoin="round" />
<line x1="669.10" y1="649.30" x2="669.10" y2="655.50" stroke="#000" stroke-width="1.3" />
<line x1="666.80" y1="655.50" x2="671.40" y2="655.50" stroke="#000" stroke-width="1.3" />
<rect x="463.40" y="684.70" width="9.80" height="9.60" fill="#000" />
<rect x="483.48" y="681.20" width="9.80" height="9.60" fill="#000" />
<rect x="503.56" y="678.60" width="9.80" height="9.60" fill="#000" />
<rect x="523.64" y="675.60" width="9.80" height="9.60" fill="#000" />
<rect x="543.72" y="672.80" width="9.80" height="9.60" fill="#000" />
<rect x="563.80" y="669.80" width="9.80" height="9.60" fill="#000" />
<rect x="583.88" y="666.40" width="9.80" height="9.60" fill="#000" />
<rect x="603.96" y="662.20" width="9.80" height="9.60" fill="#000" />
<rect x="624.04" y="657.30" width="9.80" height="9.60" fill="#000" />
<rect x="644.12" y="651.80" width="9.80" height="9.60" fill="#000" />
<rect x="664.20" y="644.50" width="9.80" height="9.60" fill="#000" />
<polyline points="468.30,735.60 488.38,722.40 508.46,710.00 528.54,698.50 548.62,686.80 568.70,674.00 588.78,659.60 608.86,646.00 628.94,630.80 649.02,614.90 669.10,596.80" fill="none" stroke="#e8263a" stroke-width="1.5" stroke-linejoin="round" />
<rect x="463.90" y="731.20" width="8.8" height="8.8" fill="#fff" stroke="#e8263a" stroke-width="1.3"/>
<rect x="483.98" y="718.00" width="8.8" height="8.8" fill="#fff" stroke="#e8263a" stroke-width="1.3"/>
<rect x="504.06" y="705.60" width="8.8" height="8.8" fill="#fff" stroke="#e8263a" stroke-width="1.3"/>
<rect x="524.14" y="694.10" width="8.8" height="8.8" fill="#fff" stroke="#e8263a" stroke-width="1.3"/>
<rect x="544.22" y="682.40" width="8.8" height="8.8" fill="#fff" stroke="#e8263a" stroke-width="1.3"/>
<rect x="564.30" y="669.60" width="8.8" height="8.8" fill="#fff" stroke="#e8263a" stroke-width="1.3"/>
<rect x="584.38" y="655.20" width="8.8" height="8.8" fill="#fff" stroke="#e8263a" stroke-width="1.3"/>
<rect x="604.46" y="641.60" width="8.8" height="8.8" fill="#fff" stroke="#e8263a" stroke-width="1.3"/>
<rect x="624.54" y="626.40" width="8.8" height="8.8" fill="#fff" stroke="#e8263a" stroke-width="1.3"/>
<rect x="644.62" y="610.50" width="8.8" height="8.8" fill="#fff" stroke="#e8263a" stroke-width="1.3"/>
<rect x="664.70" y="592.40" width="8.8" height="8.8" fill="#fff" stroke="#e8263a" stroke-width="1.3"/>
<polyline points="468.30,740.00 488.38,726.70 508.46,712.80 528.54,700.80 548.62,687.80 568.70,674.50 588.78,660.30 608.86,646.60 628.94,631.50 649.02,615.60 669.10,597.80" fill="none" stroke="#e8263a" stroke-width="1.5" stroke-linejoin="round" />
<line x1="468.30" y1="740.00" x2="468.30" y2="746.80" stroke="#e8263a" stroke-width="1.3" />
<line x1="466.00" y1="746.80" x2="470.60" y2="746.80" stroke="#e8263a" stroke-width="1.3" />
<rect x="463.40" y="735.10" width="9.80" height="9.80" fill="#e8263a" />
<line x1="488.38" y1="726.70" x2="488.38" y2="730.70" stroke="#e8263a" stroke-width="1.3" />
<line x1="486.08" y1="730.70" x2="490.68" y2="730.70" stroke="#e8263a" stroke-width="1.3" />
<rect x="483.48" y="721.80" width="9.80" height="9.80" fill="#e8263a" />
<line x1="508.46" y1="712.80" x2="508.46" y2="715.80" stroke="#e8263a" stroke-width="1.3" />
<line x1="506.16" y1="715.80" x2="510.76" y2="715.80" stroke="#e8263a" stroke-width="1.3" />
<rect x="503.56" y="707.90" width="9.80" height="9.80" fill="#e8263a" />
<line x1="528.54" y1="700.80" x2="528.54" y2="702.80" stroke="#e8263a" stroke-width="1.3" />
<line x1="526.24" y1="702.80" x2="530.84" y2="702.80" stroke="#e8263a" stroke-width="1.3" />
<rect x="523.64" y="695.90" width="9.80" height="9.80" fill="#e8263a" />
<line x1="548.62" y1="687.80" x2="548.62" y2="689.80" stroke="#e8263a" stroke-width="1.3" />
<line x1="546.32" y1="689.80" x2="550.92" y2="689.80" stroke="#e8263a" stroke-width="1.3" />
<rect x="543.72" y="682.90" width="9.80" height="9.80" fill="#e8263a" />
<line x1="568.70" y1="674.50" x2="568.70" y2="676.50" stroke="#e8263a" stroke-width="1.3" />
<line x1="566.40" y1="676.50" x2="571.00" y2="676.50" stroke="#e8263a" stroke-width="1.3" />
<rect x="563.80" y="669.60" width="9.80" height="9.80" fill="#e8263a" />
<line x1="588.78" y1="660.30" x2="588.78" y2="662.30" stroke="#e8263a" stroke-width="1.3" />
<line x1="586.48" y1="662.30" x2="591.08" y2="662.30" stroke="#e8263a" stroke-width="1.3" />
<rect x="583.88" y="655.40" width="9.80" height="9.80" fill="#e8263a" />
<line x1="608.86" y1="646.60" x2="608.86" y2="649.60" stroke="#e8263a" stroke-width="1.3" />
<line x1="606.56" y1="649.60" x2="611.16" y2="649.60" stroke="#e8263a" stroke-width="1.3" />
<rect x="603.96" y="641.70" width="9.80" height="9.80" fill="#e8263a" />
<line x1="628.94" y1="631.50" x2="628.94" y2="635.50" stroke="#e8263a" stroke-width="1.3" />
<line x1="626.64" y1="635.50" x2="631.24" y2="635.50" stroke="#e8263a" stroke-width="1.3" />
<rect x="624.04" y="626.60" width="9.80" height="9.80" fill="#e8263a" />
<line x1="649.02" y1="615.60" x2="649.02" y2="622.10" stroke="#e8263a" stroke-width="1.3" />
<line x1="646.72" y1="622.10" x2="651.32" y2="622.10" stroke="#e8263a" stroke-width="1.3" />
<rect x="644.12" y="610.70" width="9.80" height="9.80" fill="#e8263a" />
<line x1="669.10" y1="597.80" x2="669.10" y2="607.10" stroke="#e8263a" stroke-width="1.3" />
<line x1="666.80" y1="607.10" x2="671.40" y2="607.10" stroke="#e8263a" stroke-width="1.3" />
<rect x="664.20" y="592.90" width="9.80" height="9.80" fill="#e8263a" />
</svg>
</body></html>
